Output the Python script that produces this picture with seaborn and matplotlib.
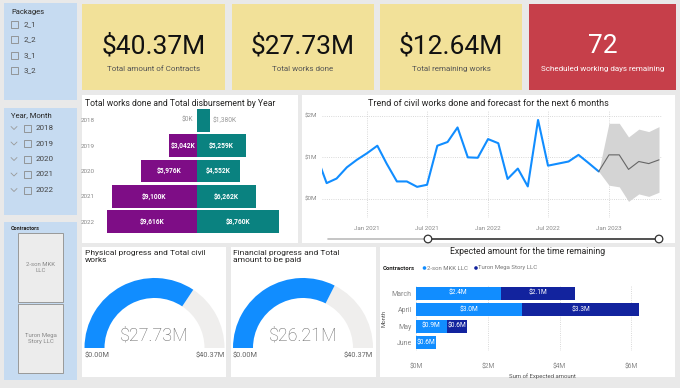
import matplotlib
matplotlib.use("Agg")
import matplotlib.pyplot as plt
import seaborn as sns
import pandas as pd
from matplotlib.patches import Rectangle, Wedge, Circle
from matplotlib import font_manager

sns.set_theme(style="white")
plt.rcParams['font.family'] = ['Roboto', 'DejaVu Sans']

installed = {f.name for f in font_manager.fontManager.ttflist}
NARROW = 'Liberation Sans Narrow' in installed
BIG_FONT = 'Liberation Sans Narrow' if NARROW else 'Roboto'
KPI_SIZE = 23 if NARROW else 19
GAUGE_SIZE = 16 if NARROW else 13

# ---------------- data ----------------
kpi_values = ["$40.37M", "$27.73M", "$12.64M", "72"]
kpi_labels = ["Total amount of Contracts", "Total works done",
              "Total remaining works", "Scheduled working days remaining"]

packages = ["2_1", "2_2", "3_1", "3_2"]
slicer_years = ["2018", "2019", "2020", "2021", "2022"]
contractors = ["2-son MKK\nLLC", "Turon Mega\nStory LLC"]

pyr_years = ["2018", "2019", "2020", "2021", "2022"]
works_done_k = [0, 3042, 5976, 9100, 9616]
disbursement_k = [1380, 5259, 4552, 6262, 8760]

trend_start = "2020-08-01"
trend_values = [1.05, 0.38, 0.49, 0.76, 0.94, 1.10, 1.28, 0.85, 0.42, 0.42,
                0.29, 0.34, 1.28, 1.37, 1.72, 1.00, 0.99, 1.44, 1.34, 0.48,
                0.73, 0.30, 1.90, 0.80, 0.85, 0.90, 1.06, 0.86, 0.66]
fc_start = "2022-12-01"
fc_values = [0.66, 1.06, 1.06, 0.71, 0.90, 0.85, 0.94]
fc_upper = [0.66, 1.82, 1.82, 1.49, 1.68, 1.62, 1.74]
fc_lower = [0.66, 0.33, 0.29, -0.06, 0.12, 0.06, 0.16]
trend_ticks = ["2021-01-01", "2021-07-01", "2022-01-01", "2022-07-01", "2023-01-01"]
trend_ticklabels = ["Jan 2021", "Jul 2021", "Jan 2022", "Jul 2022", "Jan 2023"]

months_rem = ["March", "April", "May", "June"]
mkk_amount = [2.36, 2.96, 0.86, 0.56]
turon_amount = [2.06, 3.26, 0.56, 0.0]

total_contracts = 40.37
works_done_total = 27.73
paid_total = 26.21

# ---------------- colours ----------------
BG = '#e9e9e9'
SLICER = '#c6dbf1'
YELLOW = '#f2e199'
RED = '#c63f4a'
PURPLE = '#7e0d86'
TEAL = '#0a8280'
BLUE = '#118dff'
NAVY = '#12239e'
DARK = '#252423'

W, H = 680, 388
fig = plt.figure(figsize=(6.8, 3.88), dpi=100, facecolor=BG)


def px(x0, y0, x1, y1):
    return [x0 / W, 1 - y1 / H, (x1 - x0) / W, (y1 - y0) / H]


bg = fig.add_axes([0, 0, 1, 1])
bg.set_xlim(0, W)
bg.set_ylim(H, 0)
bg.axis('off')


def box(x0, y0, x1, y1, fc, ec='none', lw=0):
    bg.add_patch(Rectangle((x0, y0), x1 - x0, y1 - y0, fc=fc, ec=ec, lw=lw))


# slicers
box(4, 3, 77, 100, SLICER)
box(4, 108, 77, 215, SLICER)
box(4, 222, 77, 380, SLICER)
bg.text(11, 12, "Packages", fontsize=5.5, color=DARK, va='center')
for i, p in enumerate(packages):
    y = 24 + i * 15.5
    box(11, y - 3.5, 18, y + 3.5, 'none', ec='#8a8a8a', lw=0.6)
    bg.text(24, y, p, fontsize=5.8, color='#444444', va='center')
bg.text(11, 115, "Year, Month", fontsize=5.5, color=DARK, va='center')
for i, yr in enumerate(slicer_years):
    y = 128 + i * 15.5
    bg.plot([11, 14, 17], [y - 1.5, y + 1.5, y - 1.5], color='#999999', lw=0.6)
    box(24, y - 3.5, 31, y + 3.5, 'none', ec='#8a8a8a', lw=0.6)
    bg.text(36, y, yr, fontsize=5.8, color='#444444', va='center')
bg.text(11, 229, "Contractors", fontsize=4, color=DARK, va='center', fontweight='bold')
for i, c in enumerate(contractors):
    y0 = 233 + i * 71
    box(18, y0, 63, y0 + 69, '#ececec', ec='#999999', lw=0.7)
    bg.text(40.5, y0 + 34.5, c, fontsize=4.3, color='#888888', ha='center', va='center',
            linespacing=1.3)

# KPI cards
cards = [(82, 225, YELLOW), (232, 374, YELLOW), (380, 522, YELLOW), (529, 676, RED)]
for (x0, x1, col), val, lab in zip(cards, kpi_values, kpi_labels):
    box(x0, 4, x1, 90, col)
    tc = 'white' if col == RED else '#111111'
    lc = 'white' if col == RED else '#555555'
    bg.text((x0 + x1) / 2, 46, val, fontsize=KPI_SIZE, color=tc, ha='center', va='center',
            family=[BIG_FONT, 'DejaVu Sans'])
    bg.text((x0 + x1) / 2, 69, lab, fontsize=5.8, color=lc, ha='center', va='center')

# white panels
box(82, 95, 298, 243, 'white')
box(302, 95, 675, 243, 'white')
box(82, 247, 226, 377, 'white')
box(231, 247, 376, 377, 'white')
box(380, 247, 675, 377, 'white')

# ---------------- pyramid ----------------
bg.text(85, 103, "Total works done and Total disbursement by Year", fontsize=6.2,
        color=DARK, va='center')
ax1 = fig.add_axes(px(100, 107.5, 290, 234.5))
ax1.set_facecolor('none')
sns.barplot(x=[-v for v in works_done_k], y=pyr_years, order=pyr_years, color=PURPLE,
            saturation=1, width=0.9, linewidth=0, ax=ax1)
sns.barplot(x=disbursement_k, y=pyr_years, order=pyr_years, color=TEAL,
            saturation=1, width=0.9, linewidth=0, ax=ax1)
ax1.set_xlim(-10360, 9932)
ax1.set(xlabel='', ylabel='')
ax1.set_xticks([])
ax1.tick_params(axis='y', labelsize=4.5, labelcolor='#888888', length=0, pad=4)
sns.despine(ax=ax1, left=True, bottom=True)
for i, (w, d) in enumerate(zip(works_done_k, disbursement_k)):
    if w == 0:
        ax1.text(-400, i, f"${w:,}K", fontsize=4.8, color='#999999', ha='right', va='center')
        ax1.text(d + 300, i, f"${d:,}K", fontsize=4.8, color='#999999', ha='left', va='center')
    else:
        ax1.text(-w / 2, i, f"${w:,}K", fontsize=4.8, color='white', ha='center', va='center',
                 fontweight='bold')
        ax1.text(d / 2, i, f"${d:,}K", fontsize=4.8, color='white', ha='center', va='center',
                 fontweight='bold')

# ---------------- trend ----------------
bg.text(488, 103, "Trend of civil works done and forecast for the next 6 months",
        fontsize=6.5, color=DARK, ha='center', va='center')
ax2 = fig.add_axes(px(322, 110, 662, 218))
ax2.set_facecolor('none')
hist = pd.DataFrame({'month': pd.date_range(trend_start, periods=len(trend_values), freq='MS'),
                     'value': trend_values})
fc = pd.DataFrame({'month': pd.date_range(fc_start, periods=len(fc_values), freq='MS'),
                   'value': fc_values, 'upper': fc_upper, 'lower': fc_lower})
ax2.fill_between(fc['month'], fc['lower'], fc['upper'], color='#d4d4d4', lw=0)
sns.lineplot(data=hist, x='month', y='value', color=BLUE, lw=1.5, ax=ax2)
sns.lineplot(data=fc, x='month', y='value', color='#666666', lw=0.8, ax=ax2)
ax2.set_xlim(pd.Timestamp('2020-08-18'), pd.Timestamp('2023-06-10'))
ax2.set_ylim(-0.46, 2.14)
ax2.set_yticks([0, 1, 2])
ax2.set_yticklabels(["$0M", "$1M", "$2M"])
ax2.set_xticks(pd.to_datetime(trend_ticks))
ax2.set_xticklabels(trend_ticklabels)
ax2.set(xlabel='', ylabel='')
ax2.tick_params(labelsize=4.5, labelcolor='#888888', length=0)
ax2.tick_params(axis='x', pad=6)
ax2.grid(True, ls=':', color='#cccccc', lw=0.6)
sns.despine(ax=ax2, left=True, bottom=True)
# range slider
bg.plot([328, 428], [239, 239], color='#bbbbbb', lw=1.2, solid_capstyle='round')
bg.plot([428, 659], [239, 239], color='#333333', lw=1.2)
for sx in (428, 659):
    bg.add_patch(Circle((sx, 239), 3.8, fc='white', ec='#333333', lw=0.9, zorder=5))


# ---------------- gauges ----------------
def gauge(cx, value, total, title, x_title):
    bg.text(x_title, 250, title, fontsize=6, color=DARK, va='top', linespacing=1.15)
    gx = fig.add_axes(px(cx - 75, 270, cx + 75, 360))
    gx.set_xlim(-75, 75)
    gx.set_ylim(-12, 78)
    gx.axis('off')
    split = 180 - 180 * value / total
    gx.add_patch(Wedge((0, 0), 70, 0, split, width=20, fc='#efeeed', ec='none'))
    gx.add_patch(Wedge((0, 0), 70, split, 180, width=20, fc=BLUE, ec='none'))
    gx.text(0, 13, f"${value:.2f}M", fontsize=GAUGE_SIZE, color='#666666', ha='center',
            va='center', family=[BIG_FONT, 'DejaVu Sans'], fontweight='light')
    gx.text(-70, -8, "$0.00M", fontsize=5.3, color='#666666', ha='left', va='center')
    gx.text(70, -8, f"${total:.2f}M", fontsize=5.3, color='#666666', ha='right', va='center')


gauge(154.5, works_done_total, total_contracts, "Physical progress and Total civil\nworks", 85)
gauge(303, paid_total, total_contracts, "Financial progress and Total\namount to be paid", 233)

# ---------------- expected amount ----------------
bg.text(528, 252, "Expected amount for the time remaining", fontsize=6.2, color=DARK,
        ha='center', va='center')
bg.text(383, 268, "Contractors", fontsize=4.3, color=DARK, va='center', fontweight='bold')
bg.add_patch(Circle((424.5, 268), 1.8, fc=BLUE, ec='none'))
bg.text(427, 268, "2-son MKK LLC", fontsize=4.3, color='#777777', va='center')
bg.add_patch(Circle((476, 268), 1.8, fc=NAVY, ec='none'))
bg.text(478.5, 268, "Turon Mega Story LLC", fontsize=4.3, color='#777777', va='center')

ax3 = fig.add_axes(px(416, 284.7, 668, 351.3))
ax3.set_facecolor('none')
totals = [m + t for m, t in zip(mkk_amount, turon_amount)]
sns.barplot(x=totals, y=months_rem, order=months_rem, color=NAVY, saturation=1,
            width=0.78, linewidth=0, ax=ax3)
sns.barplot(x=mkk_amount, y=months_rem, order=months_rem, color=BLUE, saturation=1,
            width=0.78, linewidth=0, ax=ax3)
ax3.set_xlim(0, 7.02)
ax3.set_xticks([0, 2, 4, 6])
ax3.set_xticklabels(["$0M", "$2M", "$4M", "$6M"])
ax3.tick_params(labelsize=4.8, labelcolor='#888888', length=0)
ax3.tick_params(axis='x', pad=9)
ax3.tick_params(axis='y', labelsize=5, pad=3)
ax3.grid(True, axis='x', ls=':', color='#cccccc', lw=0.6)
ax3.set_axisbelow(True)
ax3.set_xlabel("Sum of Expected amount", fontsize=4.3, color='#555555', labelpad=2)
ax3.set_ylabel("Month", fontsize=4.3, color='#555555', labelpad=4)
sns.despine(ax=ax3, left=True, bottom=True)
for i, (m, t) in enumerate(zip(mkk_amount, turon_amount)):
    ax3.text(m / 2, i, f"${m:.1f}M", fontsize=4.8, color='white', ha='center', va='center')
    if t > 0:
        ax3.text(m + t / 2, i, f"${t:.1f}M", fontsize=4.8, color='white', ha='center',
                 va='center')

fig.savefig("out.png", dpi=100, facecolor=BG)
